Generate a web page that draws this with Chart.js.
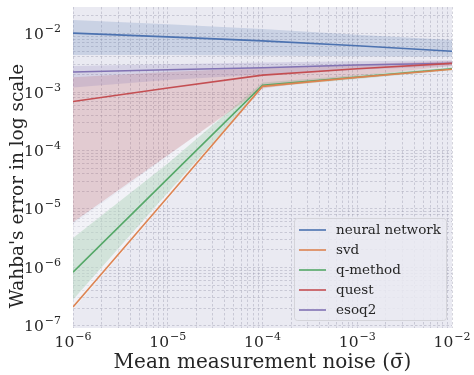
<!DOCTYPE html>
<html>
<head>
<meta charset="utf-8">
<script src="https://cdn.jsdelivr.net/npm/chart.js@4.4.1/dist/chart.umd.min.js"></script>
<style>
  html, body { margin: 0; padding: 0; background: #fff; }
  #wrap { width: 474px; height: 375px; }
</style>
</head>
<body>
<div id="wrap"><canvas id="errChart"></canvas></div>
<script>
// noise levels (x) and the five methods
const noise = [1e-6, 1e-5, 1e-4, 1e-3, 1e-2];
const methods = ['neural network', 'svd', 'q-method', 'quest', 'esoq2'];
const colors = ['#4C72B0', '#DD8452', '#55A868', '#C44E52', '#8172B3'];

// mean error per method
const nnMean    = [1.02e-2, 8.8e-3, 7.5e-3, 6.2e-3, 5.0e-3];
const svdMean   = [2.1e-7, 1.6e-5, 1.25e-3, 1.78e-3, 2.45e-3];
const qMean     = [8.3e-7, 3.3e-5, 1.31e-3, 1.8e-3, 2.5e-3];
const questMean = [6.9e-4, 1.17e-3, 1.95e-3, 2.5e-3, 3.1e-3];
const esoqMean  = [2.2e-3, 2.4e-3, 2.6e-3, 2.9e-3, 3.1e-3];

// spread bands (upper / lower)
const nnHi    = [1.7e-2, 1.45e-2, 1.2e-2, 9.6e-3, 7.8e-3];
const nnLo    = [4.3e-3, 4.3e-3, 4.2e-3, 4.1e-3, 4.0e-3];
const svdHi   = [5.5e-6, 8e-5, 1.3e-3, 1.85e-3, 2.55e-3];
const svdLo   = [1.9e-7, 1.45e-5, 1.2e-3, 1.72e-3, 2.38e-3];
const qHi     = [3.2e-6, 6e-5, 1.45e-3, 1.95e-3, 2.65e-3];
const qLo     = [2.8e-7, 1.9e-5, 1.2e-3, 1.68e-3, 2.35e-3];
const questHi = [1.8e-3, 2.2e-3, 2.6e-3, 3.0e-3, 3.4e-3];
const questLo = [5.9e-6, 8.3e-5, 1.15e-3, 1.9e-3, 2.8e-3];
const esoqHi  = [2.8e-3, 3.0e-3, 3.2e-3, 3.35e-3, 3.5e-3];
const esoqLo  = [1.2e-3, 1.6e-3, 2.0e-3, 2.4e-3, 2.8e-3];

// tick labels (powers of ten)
const xDecades = [-6, -5, -4, -3, -2];
const yDecades = [-7, -6, -5, -4, -3, -2];
const yTitle = "Wahba's error in log scale";

const means = [nnMean, svdMean, qMean, questMean, esoqMean];
const highs = [nnHi, svdHi, qHi, questHi, esoqHi];
const lows  = [nnLo, svdLo, qLo, questLo, esoqLo];
const bandFill = ['rgba(76,114,176,0.2)', 'rgba(255,255,255,0.4)', 'rgba(85,168,104,0.2)',
                  'rgba(196,78,82,0.2)', 'rgba(129,114,179,0.2)'];

const FONT = '"DejaVu Serif", serif';
const TXT = '#262626';

const toXY = arr => arr.map((v, i) => ({ x: noise[i], y: v }));

const datasets = methods.map((m, i) => ({
    label: m,
    data: toXY(means[i]),
    borderColor: colors[i],
    borderWidth: 1.6,
    pointRadius: 0,
    fill: false,
    tension: 0
}));
// bands: pushed last-method-first so neural network's band ends up underneath
for (let i = methods.length - 1; i >= 0; i--) {
    datasets.push({ label: '', data: toXY(highs[i]), borderWidth: 0, pointRadius: 0,
                    backgroundColor: bandFill[i], fill: '+1' });
    datasets.push({ label: '', data: toXY(lows[i]), borderWidth: 0, pointRadius: 0, fill: false });
}

function logTicks(lo, hi) {
    const out = [];
    for (let e = lo; e <= hi; e++) {
        for (let k = 1; k <= 9; k++) out.push({ value: k * Math.pow(10, e) });
    }
    return out;
}

function drawPow(ctx, exp, x, baseline, align) {
    const base = '10', sup = '\u2212' + Math.abs(exp);
    ctx.font = '15.5px ' + FONT;
    const wb = ctx.measureText(base).width;
    ctx.font = '11px ' + FONT;
    const ws = ctx.measureText(sup).width;
    const total = wb + 1 + ws;
    const left = align === 'right' ? x - total : x - total / 2;
    ctx.textAlign = 'left';
    ctx.textBaseline = 'alphabetic';
    ctx.font = '15.5px ' + FONT;
    ctx.fillText(base, left, baseline);
    ctx.font = '11px ' + FONT;
    ctx.fillText(sup, left + wb + 1, baseline - 7);
}

const gridColor = 'rgba(150,150,170,0.5)';

const bgPlugin = {
    id: 'plotBg',
    beforeDraw(chart) {
        const { ctx, chartArea: a } = chart;
        ctx.save();
        ctx.fillStyle = '#EAEAF2';
        ctx.fillRect(a.left, a.top, a.right - a.left, a.bottom - a.top);
        ctx.restore();
    }
};

const labelPlugin = {
    id: 'powLabels',
    afterDraw(chart) {
        const { ctx } = chart;
        const xs = chart.scales.x, ys = chart.scales.y;
        ctx.save();
        ctx.fillStyle = TXT;
        xDecades.forEach(e => drawPow(ctx, e, xs.getPixelForValue(Math.pow(10, e)), 347, 'center'));
        yDecades.forEach(e => drawPow(ctx, e, 61, ys.getPixelForValue(Math.pow(10, e)) + 5.5, 'right'));
        // y axis title
        ctx.translate(18, 186);
        ctx.rotate(-Math.PI / 2);
        ctx.font = '18.5px ' + FONT;
        ctx.textAlign = 'center';
        ctx.textBaseline = 'middle';
        ctx.fillText(yTitle, 0, 0);
        ctx.restore();
    }
};

const legendPlugin = {
    id: 'boxLegend',
    afterDraw(chart) {
        const { ctx } = chart;
        const x0 = 294, y0 = 218, w = 152, h = 102, row = 20;
        ctx.save();
        ctx.fillStyle = 'rgba(234,234,242,0.85)';
        ctx.strokeStyle = 'rgba(210,210,215,0.9)';
        ctx.lineWidth = 1;
        ctx.beginPath();
        ctx.roundRect(x0 + 0.5, y0 + 0.5, w, h, 3);
        ctx.fill();
        ctx.stroke();
        ctx.font = '13.5px ' + FONT;
        ctx.textBaseline = 'middle';
        ctx.textAlign = 'left';
        methods.forEach((m, i) => {
            const y = y0 + 12 + i * row;
            ctx.strokeStyle = colors[i];
            ctx.lineWidth = 1.6;
            ctx.beginPath();
            ctx.moveTo(x0 + 5, y);
            ctx.lineTo(x0 + 32, y);
            ctx.stroke();
            ctx.fillStyle = TXT;
            ctx.fillText(m, x0 + 42, y);
        });
        ctx.restore();
    }
};

new Chart(document.getElementById('errChart'), {
    type: 'line',
    data: { datasets },
    options: {
        responsive: true,
        maintainAspectRatio: false,
        animation: false,
        layout: { padding: { top: 7, right: 22, left: 0, bottom: 0 } },
        plugins: {
            legend: { display: false },
            tooltip: { enabled: false },
            filler: { drawTime: 'beforeDatasetsDraw' }
        },
        scales: {
            x: {
                type: 'logarithmic',
                min: 1e-6,
                max: 1e-2,
                afterBuildTicks: axis => { axis.ticks = logTicks(-6, -3).concat([{ value: 1e-2 }]); },
                afterFit: axis => { axis.height = 47; },
                ticks: { display: false },
                grid: { color: gridColor, lineWidth: 0.8, drawTicks: false },
                border: { display: false, dash: [2.5, 2] },
                title: {
                    display: true,
                    text: 'Mean measurement noise (\u03C3\u0304)',
                    color: TXT,
                    font: { family: FONT, size: 20 },
                    padding: { top: 0, bottom: 0 }
                }
            },
            y: {
                type: 'logarithmic',
                min: 9.2e-8,
                max: 0.0285,
                afterBuildTicks: axis => { axis.ticks = logTicks(-7, -2).filter(t => t.value > 9.2e-8 && t.value < 0.0285); },
                afterFit: axis => { axis.width = 73; },
                ticks: { display: false },
                grid: { color: gridColor, lineWidth: 0.8, drawTicks: false },
                border: { display: false, dash: [2.5, 2] },
                title: { display: false }
            }
        }
    },
    plugins: [bgPlugin, labelPlugin, legendPlugin]
});
</script>
</body>
</html>
